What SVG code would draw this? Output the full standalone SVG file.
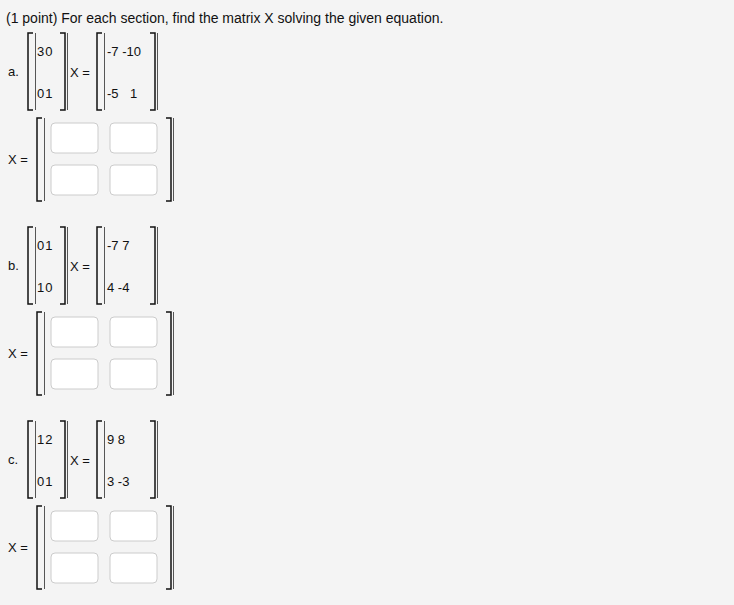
<svg xmlns="http://www.w3.org/2000/svg" width="734" height="605" viewBox="0 0 734 605">
<style>
text{font-family:"Liberation Sans",Arial,sans-serif;font-size:13px;fill:#111}
.t{font-size:14px}
.m{letter-spacing:1px}
.bk{fill:none;stroke:#111;stroke-width:1.5}
.ln{stroke:#555;stroke-width:1}
.bx{fill:#fff;stroke:#ccc;stroke-width:1}
</style>
<defs>
<g id="sm">
<path class="bk" d="M33,0 H28 V77 H33"/><line class="ln" x1="35.5" y1="0" x2="35.5" y2="77"/>
<path class="bk" d="M60,0 H65 V77 H60"/><line class="ln" x1="67.5" y1="0" x2="67.5" y2="77"/>
</g>
<g id="sm2">
<path class="bk" d="M102,0 H97 V77 H102"/><line class="ln" x1="104.5" y1="0" x2="104.5" y2="77"/>
<path class="bk" d="M150,0 H155 V77 H150"/><line class="ln" x1="157.5" y1="0" x2="157.5" y2="77"/>
</g>
<g id="big">
<path class="bk" d="M42,0 H37 V83 H42"/><line class="ln" x1="44.5" y1="0" x2="44.5" y2="83"/>
<path class="bk" d="M166,0 H171 V83 H166"/><line class="ln" x1="173.5" y1="0" x2="173.5" y2="83"/>
<rect class="bx" x="51" y="5" width="47" height="30" rx="4"/>
<rect class="bx" x="110" y="5" width="47" height="30" rx="4"/>
<rect class="bx" x="51" y="47" width="47" height="30" rx="4"/>
<rect class="bx" x="110" y="47" width="47" height="30" rx="4"/>
<text x="8" y="46">X =</text>
</g>
</defs>
<rect width="734" height="605" fill="#f4f4f4"/>
<text class="t" x="6" y="23">(1 point) For each section, find the matrix X solving the given equation.</text>
<g id="section-a" transform="translate(0,33)">
<text x="8" y="43">a.</text>
<use href="#sm"/><use href="#sm2"/>
<text class="m" x="37" y="23">30</text><text class="m" x="37" y="65">01</text>
<text x="70" y="44">X =</text>
<text x="107" y="23">-7 -10</text><text x="107" y="65">-5</text><text x="130" y="65">1</text>
<g transform="translate(0,85)"><use href="#big"/></g>
</g>
<g id="section-b" transform="translate(0,227)">
<text x="8" y="43">b.</text>
<use href="#sm"/><use href="#sm2"/>
<text class="m" x="37" y="23">01</text><text class="m" x="37" y="65">10</text>
<text x="70" y="44">X =</text>
<text x="107" y="23">-7 7</text><text x="107" y="65">4 -4</text>
<g transform="translate(0,85)"><use href="#big"/></g>
</g>
<g id="section-c" transform="translate(0,421)">
<text x="8" y="43">c.</text>
<use href="#sm"/><use href="#sm2"/>
<text class="m" x="37" y="23">12</text><text class="m" x="37" y="65">01</text>
<text x="70" y="44">X =</text>
<text x="107" y="23">9 8</text><text x="107" y="65">3 -3</text>
<g transform="translate(0,85)"><use href="#big"/></g>
</g>
</svg>
